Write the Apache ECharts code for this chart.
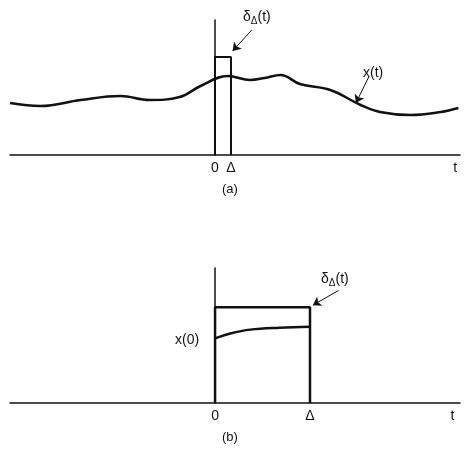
<!DOCTYPE html>
<html>
<head>
<meta charset="utf-8">
<script src="https://cdn.jsdelivr.net/npm/echarts@6/dist/echarts.min.js"></script>
<style>html,body{margin:0;background:#fff}#c{width:474px;height:474px}</style>
</head>
<body>
<div id="c"></div>
<script>
// (a) signal x(t), t in units of Δ
var curveA_t = [-12.8, -10.9, -8.4, -5.9, -4.1, -2.2, -0.9, 0.8, 2.2, 3.1, 4.1, 5.3, 7.2, 9.1, 10.3, 12.2, 14.1, 15.2];
var curveA_y = [0.52, 0.49, 0.55, 0.59, 0.55, 0.58, 0.69, 0.79, 0.75, 0.77, 0.80, 0.71, 0.65, 0.50, 0.43, 0.40, 0.43, 0.47];
// pulse δΔ(t): width Δ = 1
var pulseT = [0, 0, 1, 1];
var pulseY = [0, 0.98, 0.98, 0];
// (b) zoomed signal on [0, Δ]
var curveB_t = [0, 0.16, 0.37, 0.68, 1];
var curveB_y = [0.66, 0.71, 0.75, 0.77, 0.78];
var tickA = {0: '0', 1: 'Δ', 15: 't'};
var tickB = {0: '0', 1: 'Δ', 2.5: 't'};

function zip(a, b) { return a.map(function (v, i) { return [v, b[i]]; }); }

var ink = '#111';
var font = '"Liberation Sans", Arial, sans-serif';

function xAx(idx, min, max, ticks) {
    return {
        type: 'value', gridIndex: idx, min: min, max: max,
        axisLine: { lineStyle: { color: ink, width: 1.5 } },
        axisTick: { show: false }, splitLine: { show: false },
        axisLabel: {
            customValues: Object.keys(ticks).map(Number),
            formatter: function (v) { return ticks[v] || ''; },
            color: ink, fontSize: 14, fontFamily: font, margin: 6
        }
    };
}
function yAx(idx, max) {
    return {
        type: 'value', gridIndex: idx, min: 0, max: max,
        axisLine: { show: true, onZero: true, lineStyle: { color: ink, width: 1.5 } },
        axisTick: { show: false }, splitLine: { show: false }, axisLabel: { show: false }
    };
}
function arrow(idx, from, to) {
    return {
        type: 'line', xAxisIndex: idx, yAxisIndex: idx, data: [], silent: true,
        markLine: {
            silent: true, symbol: ['none', 'arrow'], symbolSize: 8, label: { show: false },
            lineStyle: { color: ink, width: 1, type: 'solid' },
            data: [[{ coord: from }, { coord: to }]]
        }
    };
}
function line(idx, data, smooth, w) {
    return {
        type: 'line', xAxisIndex: idx, yAxisIndex: idx, data: data, smooth: smooth,
        showSymbol: false, silent: true, lineStyle: { color: ink, width: w }
    };
}

var chart = echarts.init(document.getElementById('c'));
chart.setOption({
    animation: false,
    grid: [
        { left: 10, width: 450, top: 20, height: 135 },
        { left: 10, width: 450, top: 268, height: 135 }
    ],
    xAxis: [xAx(0, -12.8, 15.3, tickA), xAx(1, -2.16, 2.58, tickB)],
    yAxis: [yAx(0, 1.35), yAx(1, 1.38)],
    series: [
        line(0, zip(curveA_t, curveA_y), 0.4, 2.5),
        line(0, zip(pulseT, pulseY), false, 2),
        arrow(0, [9.6, 0.78], [8.8, 0.52]),
        arrow(0, [2.3, 1.25], [1.1, 1.04]),
        line(1, zip(curveB_t, curveB_y), 0.4, 2.5),
        line(1, zip(pulseT, pulseY), false, 2.5),
        arrow(1, [1.3, 1.15], [1.03, 1.0])
    ],
    graphic: [
        { type: 'text', left: 243, top: 10, style: { text: '{d|δ}{s|Δ}{d|(t)}', rich: { d: { fontSize: 14, fontFamily: font, fill: ink }, s: { fontSize: 10, fontFamily: font, fill: ink, verticalAlign: 'bottom', padding: [8, 0, 0, 0] } } } },
        { type: 'text', left: 363, top: 66, style: { text: 'x(t)', fontSize: 14, fontFamily: font, fill: ink } },
        { type: 'text', left: 222, top: 183, style: { text: '(a)', fontSize: 13, fontFamily: font, fill: ink } },
        { type: 'text', left: 321, top: 272, style: { text: '{d|δ}{s|Δ}{d|(t)}', rich: { d: { fontSize: 14, fontFamily: font, fill: ink }, s: { fontSize: 10, fontFamily: font, fill: ink, verticalAlign: 'bottom', padding: [8, 0, 0, 0] } } } },
        { type: 'text', left: 175, top: 333, style: { text: 'x(0)', fontSize: 14, fontFamily: font, fill: ink } },
        { type: 'text', left: 222, top: 431, style: { text: '(b)', fontSize: 13, fontFamily: font, fill: ink } }
    ]
});
</script>
</body>
</html>
